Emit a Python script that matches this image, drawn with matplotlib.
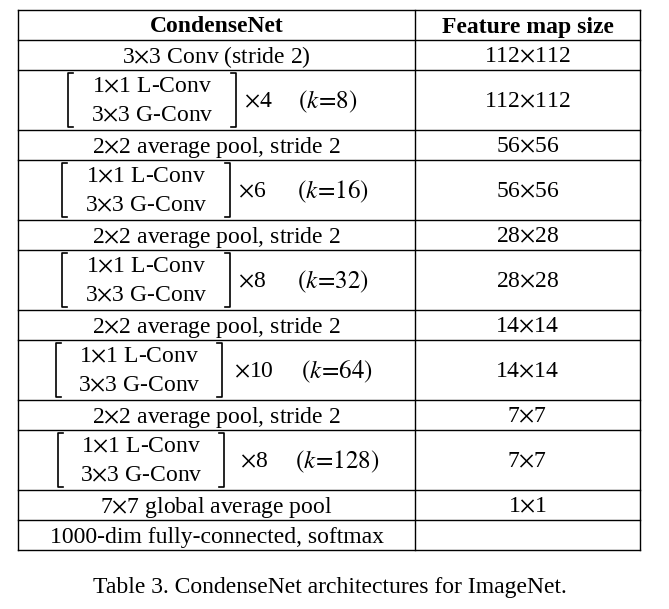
import matplotlib.pyplot as plt
from matplotlib.lines import Line2D

plt.rcParams['font.family'] = ['Liberation Serif', 'DejaVu Serif']
plt.rcParams['mathtext.fontset'] = 'stix'

W, H = 669, 609
headers = ['CondenseNet', 'Feature map size']
X = r'$\times$'
rows = [
    ('3' + X + '3 Conv (stride 2)', '112' + X + '112'),
    ('block', '112' + X + '112'),
    ('2' + X + '2 average pool, stride 2', '56' + X + '56'),
    ('block', '56' + X + '56'),
    ('2' + X + '2 average pool, stride 2', '28' + X + '28'),
    ('block', '28' + X + '28'),
    ('2' + X + '2 average pool, stride 2', '14' + X + '14'),
    ('block', '14' + X + '14'),
    ('2' + X + '2 average pool, stride 2', '7' + X + '7'),
    ('block', '7' + X + '7'),
    ('7' + X + '7 global average pool', '1' + X + '1'),
    ('1000-dim fully-connected, softmax', ''),
]
repeats = ['4', '6', '8', '10', '8']
growth = ['8', '16', '32', '64', '128']
# bracket left/right x, repeat x, k x (pixels)
block_pos = [(68, 236, 258, 328), (62, 230, 252, 333), (62, 230, 252, 333),
             (56, 222, 254, 337), (58, 224, 254, 337)]
caption = 'Table 3. CondenseNet architectures for ImageNet.'

fig = plt.figure(figsize=(W / 100, H / 100), dpi=100)
ax = fig.add_axes([0, 0, 1, 1])
ax.set_xlim(0, W)
ax.set_ylim(H, 0)
ax.axis('off')

x0, xm, x1 = 18, 415, 640
fs = 17
lw = 1.0
dy = 2

def hline(y):
    ax.add_line(Line2D([x0, x1], [y, y], color='black', lw=lw))

def txt(x, y, s, **kw):
    ax.text(x, y + dy, s, ha='center', va='center', fontsize=kw.pop('fontsize', fs), **kw)

top = 10
hline(top)
txt((x0 + xm) / 2, top + 15, headers[0], fontweight='bold')
txt((xm + x1) / 2, top + 15, headers[1], fontweight='bold')
y = top + 30
hline(y)
bi = 0
for left, size in rows:
    h = 60 if left == 'block' else 30
    cy = y + h / 2
    if left == 'block':
        bl, br, rx, kx = block_pos[bi]
        bc = (bl + br) / 2
        txt(bc, cy - 15, '1' + X + '1 L-Conv')
        txt(bc, cy + 14, '3' + X + '3 G-Conv')
        yt, yb = y + 3, y + h - 3
        ax.plot([bl + 5, bl, bl, bl + 5], [yt, yt, yb, yb], color='black', lw=1.2)
        ax.plot([br - 5, br, br, br - 5], [yt, yt, yb, yb], color='black', lw=1.2)
        txt(rx, cy, X + repeats[bi])
        txt(kx, cy, r'$(k\!=\!%s)$' % growth[bi], fontsize=fs + 1)
        bi += 1
    else:
        txt((x0 + xm) / 2, cy, left)
    txt((xm + x1) / 2, cy, size)
    y += h
    hline(y)

for x in (x0, xm, x1):
    ax.add_line(Line2D([x, x], [top, y], color='black', lw=lw))

txt(330, 586, caption)
fig.savefig('out.png', dpi=100)
